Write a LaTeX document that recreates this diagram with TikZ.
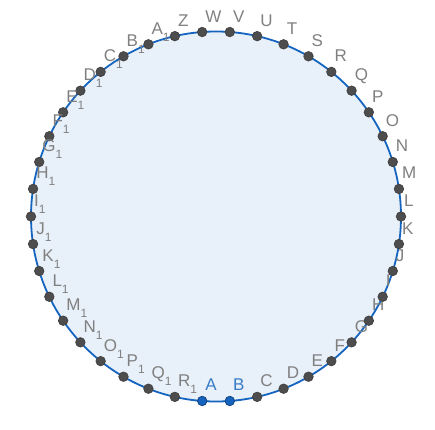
\documentclass[tikz,border=0pt]{standalone}
\usepackage{fontspec}
\setmainfont{Liberation Sans}
\definecolor{ggblue}{RGB}{21,101,192}
\definecolor{ggfill}{RGB}{232,240,249}
\definecolor{ptgray}{RGB}{77,77,77}
\definecolor{lblgray}{RGB}{128,128,128}
\newcommand{\lblsub}[1]{\raisebox{-7pt}{\fontsize{12}{13}\selectfont #1}}
\tikzset{
  ptdot/.style={circle, fill=ptgray, draw=black!75, line width=0.7pt, inner sep=0pt, minimum size=9.5pt},
  ptblue/.style={ptdot, fill=ggblue, draw=ggblue!60!black},
  lbl/.style={anchor=base west, inner sep=0pt, text=lblgray, font=\fontsize{17}{19}\selectfont, xshift=3pt, yshift=10pt},
}
\begin{document}
\begin{tikzpicture}[x=1pt,y=1pt]
        \useasboundingbox (-216,-212.5) rectangle (219,216.5);
        \coordinate (O) at (0,0);
        \draw[ggblue, line width=1.8pt, fill=ggfill] (O) circle (185);
        % A and B
        \foreach \nm [count=\k from 0] in {A,B}
        {
            \node[ptblue] (\nm) at (265.714+\k*8.5714:185) {};
            \node[lbl, text=ggblue!85] (l\nm) at (\nm.center) {\nm};
        }
        % C to Z
        \foreach \nm [count=\k from 2] in {C,D,E,F,G,H,I,J,K,L,M,N,O,P,Q,R,S,T,U,V,W,Z}
        {
            \node[ptdot] (\nm) at (265.714+\k*8.5714:185) {};
            \node[lbl] (l\nm) at (\nm.center) {\nm};
        }
        % A_1 to R_1
        \foreach \nm [count=\k from 24] in {A,B,C,D,E,F,G,H,I,J,K,L,M,N,O,P,Q,R}
        {
            \node[ptdot] (\nm1) at (265.714+\k*8.5714:185) {};
            \node[lbl] (l\nm1) at (\nm1.center) {\nm\lblsub{1}};
        }
    \end{tikzpicture}
\end{document}
